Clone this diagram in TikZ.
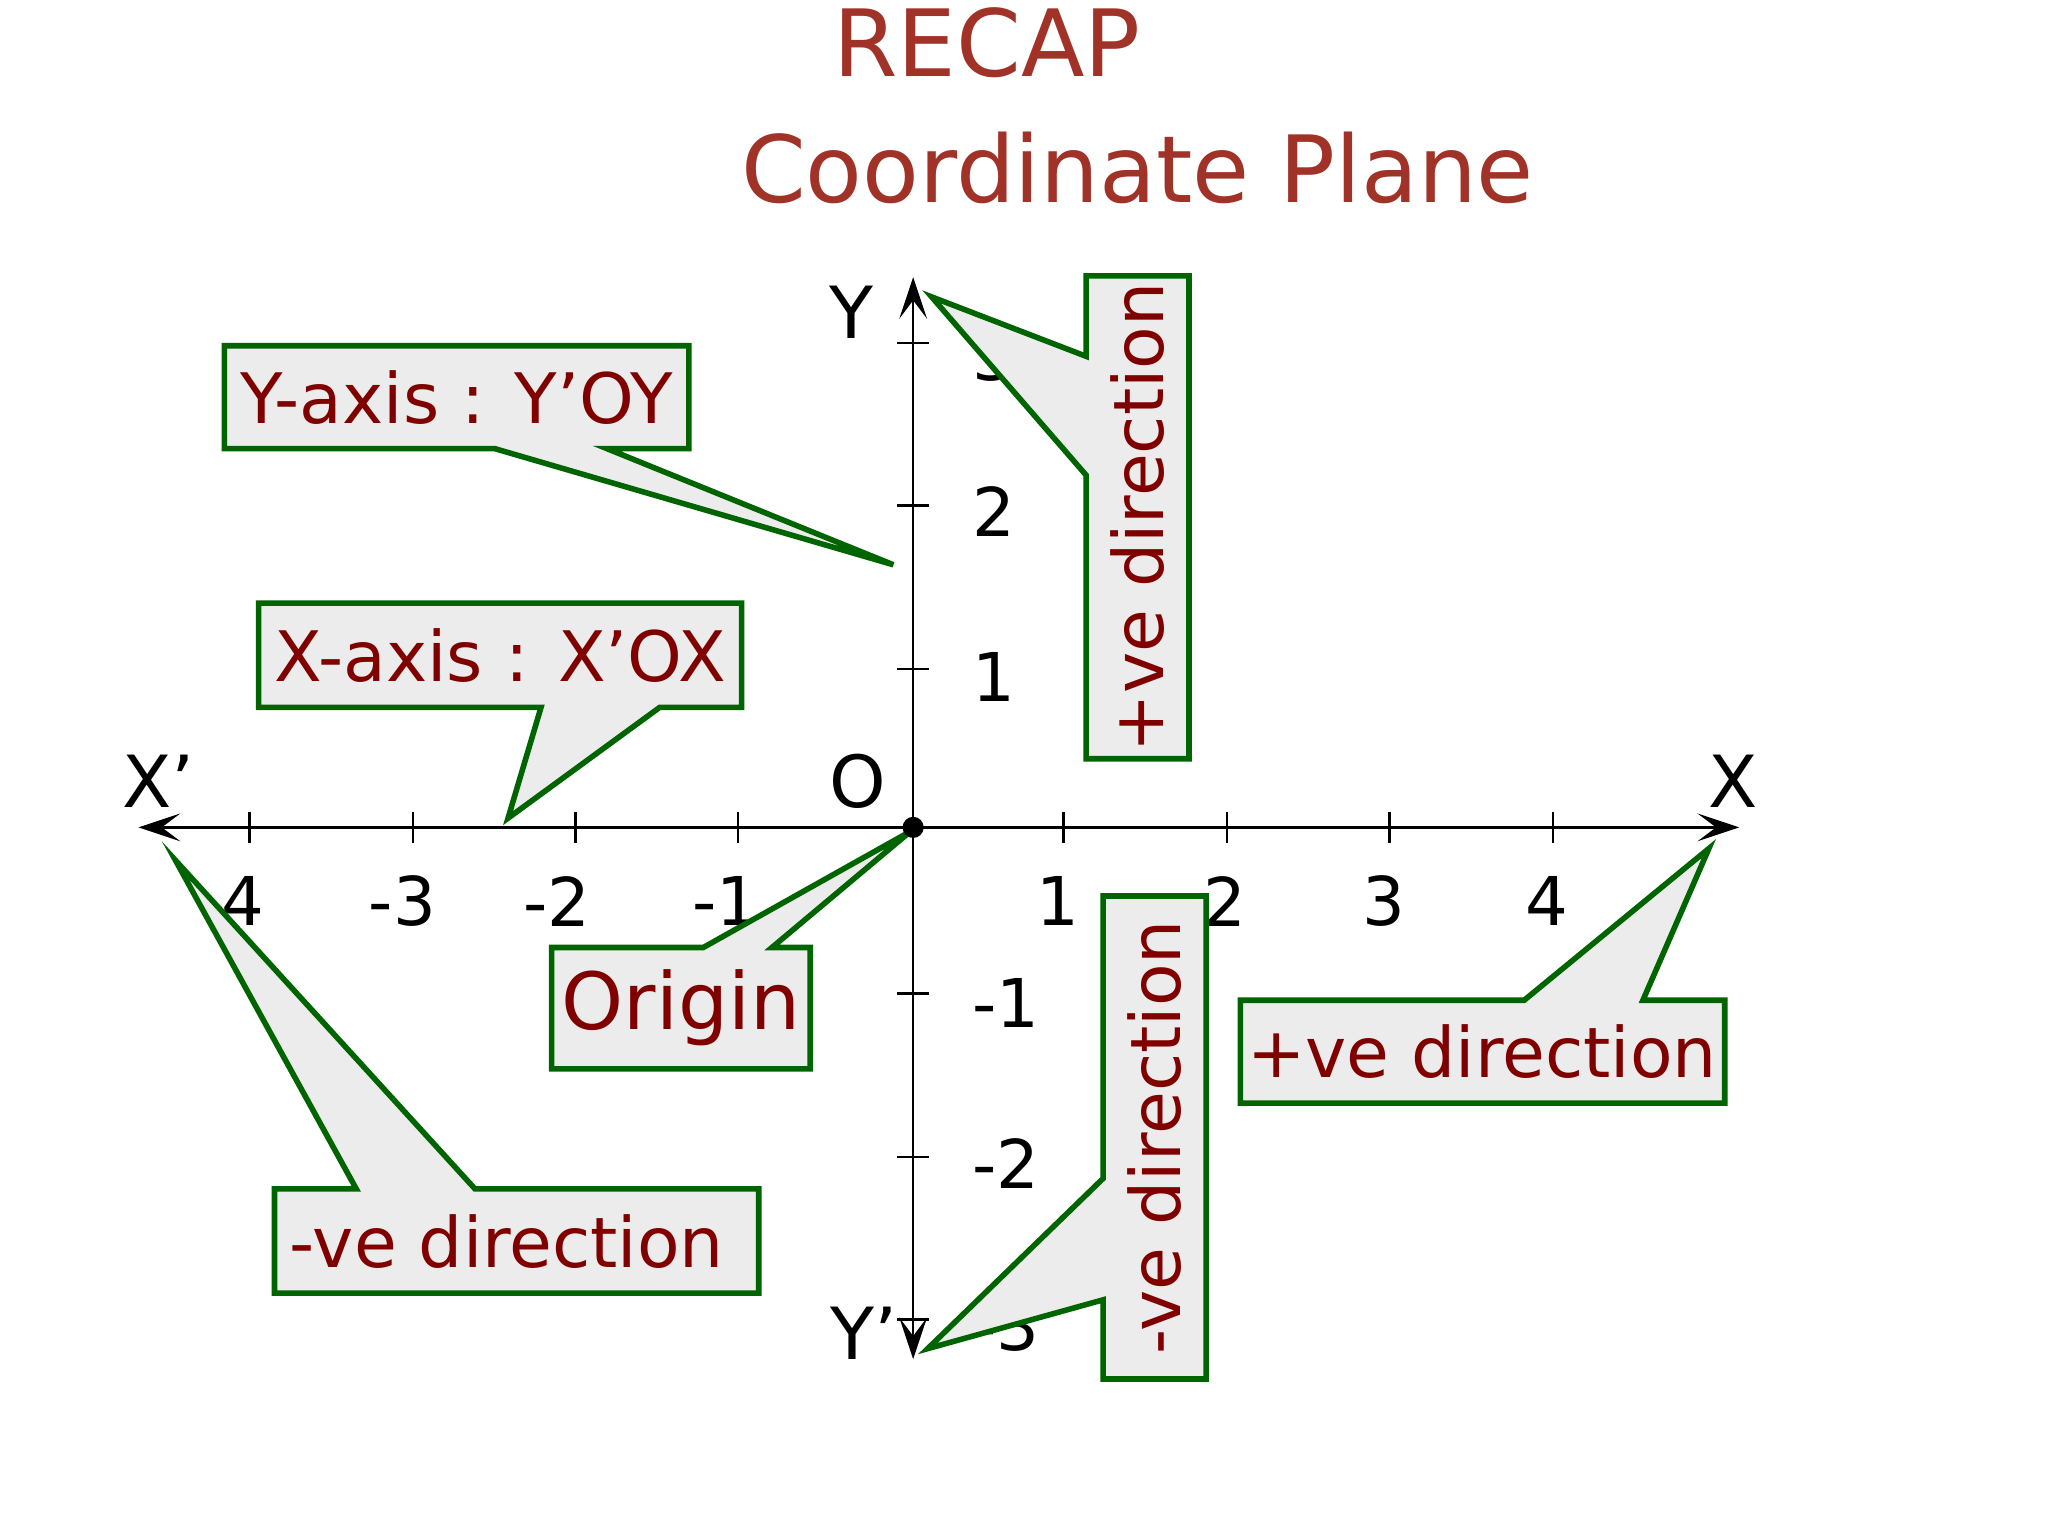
\documentclass[tikz,border=0pt]{standalone}
\usepackage{fontspec}
\setmainfont{DejaVu Sans}
\usetikzlibrary{arrows.meta}
\definecolor{ttl}{RGB}{160,50,40}
\definecolor{ctxt}{RGB}{128,0,0}
\definecolor{cgreen}{RGB}{0,100,0}
\definecolor{cfill}{RGB}{236,236,236}
\begin{document}
\begin{tikzpicture}[x=0.01cm,y=-0.01cm,
  call/.style={draw=cgreen,fill=cfill,line width=1.2pt,line join=miter},
  ctext/.style={text=ctxt,font=\fontsize{15}{18}\selectfont,inner sep=0},
  lab/.style={font=\fontsize{15.5}{18}\selectfont,inner sep=0},
  num/.style={font=\fontsize{14.5}{17}\selectfont,inner sep=0},
  tick/.style={line width=0.5pt}]
\useasboundingbox (0,0) rectangle (1552,1164);
% titles
\node[text=ttl,font=\fontsize{20}{24}\selectfont] (t1) at (748,32) {RECAP};
\node[text=ttl,font=\fontsize{20}{24}\selectfont] (t2) at (862,127) {Coordinate Plane};
% axes
\coordinate (xl) at (105,627); \coordinate (xr) at (1318,627);
\coordinate (yt) at (692,210); \coordinate (yb) at (692,1030);
\draw[line width=0.5pt,{Stealth[length=9pt,width=6pt,inset=4pt]}-{Stealth[length=9pt,width=6pt,inset=4pt]}] (xl) -- (xr);
\draw[line width=0.5pt,{Stealth[length=9pt,width=6pt,inset=4pt]}-{Stealth[length=9pt,width=6pt,inset=4pt]}] (yb) -- (yt);
\foreach \x in {189,313,436,559,806,930,1053,1177} \draw[tick] (\x,615) -- (\x,639);
\foreach \y in {260,383,507,753,877,1000} \draw[tick] (680,\y) -- (704,\y);
\foreach \x/\t in {175/-4,305/-3,422/-2,550/-1,802/1,928/2,1049/3,1172/4} \node[num] at (\x,683) {\t};
\foreach \y/\t in {270/3,388/2,513/1,760/-1,882/-2,1005/-3} \node[num,anchor=west] at (736,\y) {\t};
\node[lab] (Y) at (645,237) {Y};
\node[lab] (Xp) at (120,592) {X’};
\node[lab] (O) at (650,592) {O};
\node[lab] (X) at (1313,592) {X};
\node[lab] (Yp) at (655,1010) {Y’};
% callouts
\draw[call] (170,262) -- (522,262) -- (522,340) -- (460,340) -- (677,428) -- (375,340) -- (170,340) -- cycle;
\node[ctext] (c1) at (346,301) {Y-axis : Y’OY};
\draw[call] (196,457) -- (562,457) -- (562,536) -- (500,536) -- (385,620) -- (410,536) -- (196,536) -- cycle;
\node[ctext] (c2) at (379,497) {X-axis : X’OX};
\draw[call] (823,209) -- (901,209) -- (901,575) -- (823,575) -- (823,360) -- (706,225) -- (823,270) -- cycle;
\node[ctext,rotate=90] (c3) at (862,392) {+ve direction};
\draw[call] (418,718) -- (533,718) -- (690,630) -- (585,718) -- (614,718) -- (614,810) -- (418,810) -- cycle;
\node[ctext,font=\fontsize{17}{20}\selectfont] (c4) at (516,764) {Origin};
\draw[call] (208,901) -- (270,901) -- (133,652) -- (360,901) -- (575,901) -- (575,980) -- (208,980) -- cycle;
\node[ctext] (c5) at (384,941) {-ve direction};
\draw[call] (940,758) -- (1155,758) -- (1295,643) -- (1245,758) -- (1307,758) -- (1307,836) -- (940,836) -- cycle;
\node[ctext] (c6) at (1123,797) {+ve direction};
\draw[call] (836,679) -- (914,679) -- (914,1045) -- (836,1045) -- (836,985) -- (703,1022) -- (836,893) -- cycle;
\node[ctext,rotate=90] (c7) at (875,862) {-ve direction};
\fill (692,627) circle (8);
\end{tikzpicture}
\end{document}
